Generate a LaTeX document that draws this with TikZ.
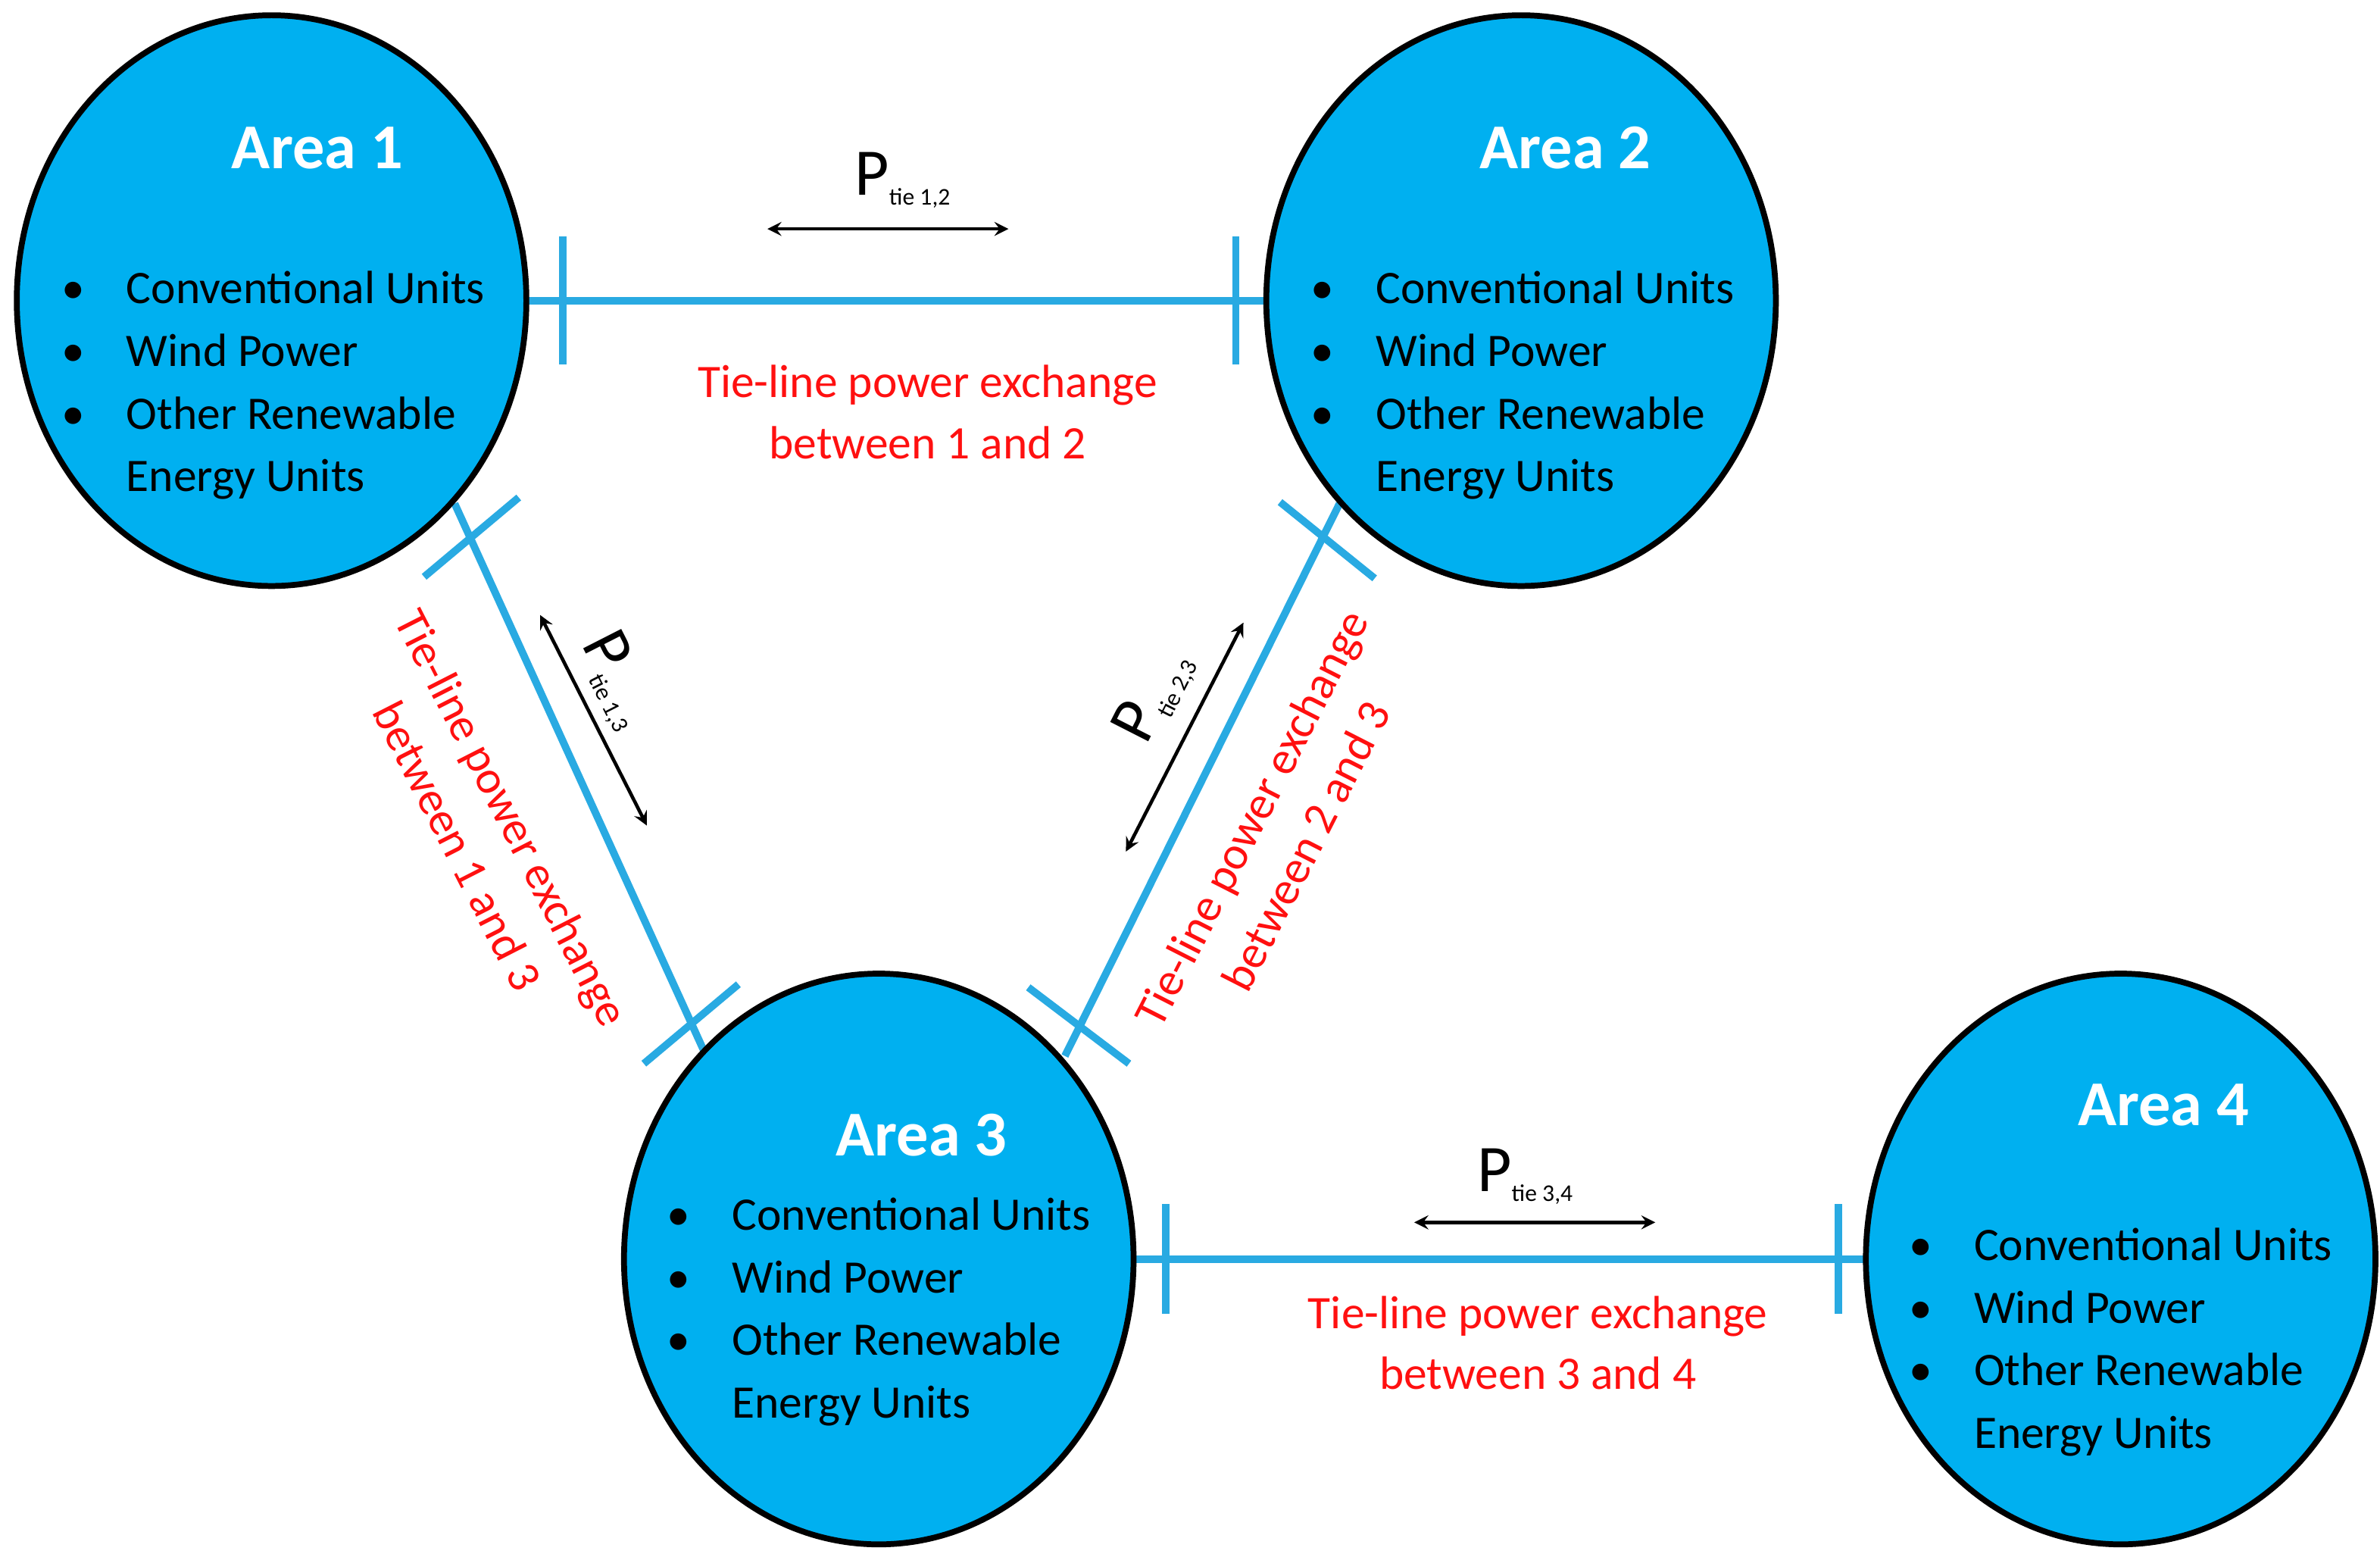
\documentclass[tikz,border=0pt]{standalone}
\usepackage{fontspec}
\setmainfont{Carlito}
\usetikzlibrary{shapes.geometric, arrows, positioning, math, calc}
\definecolor{areaBlue}{HTML}{00B0F0}
\definecolor{lineBlue}{HTML}{29AAE2}
\definecolor{labelRed}{HTML}{FF1010}
\newcommand{\arealist}{%
	\begin{tabular}{@{}l@{\hspace{0.55cm}}l@{}}
	\textbullet & Conventional Units\\
	\textbullet & Wind Power\\
	\textbullet & Other Renewable\\
	            & Energy Units
	\end{tabular}}
\begin{document}
\begin{tikzpicture}[x=0.2014mm, y=-0.2014mm]
	\tikzmath{
		\rx   = 167; %circle half width
		\ry   = 187; %circle half height
		\barL = 42;  %half length of the end bars
	}
	\tikzstyle{Area} = [
		ellipse, draw=black, line width=2.2pt, fill=areaBlue, inner sep=0pt,
		minimum width=2*\rx*0.2014mm, minimum height=2*\ry*0.2014mm
	]
	\tikzstyle{Title} = [text=white, font=\fontsize{24}{28}\selectfont\bfseries]
	\tikzstyle{List}  = [anchor=north west, inner sep=0pt, font=\fontsize{17.5}{23.5}\selectfont]
	\tikzstyle{Tie}   = [draw=lineBlue, line width=2.8pt]
	\tikzstyle{Flow}  = [<->, >=stealth, line width=1.3pt]
	\tikzstyle{RedNote} = [text=labelRed, align=center, font=\fontsize{17.5}{23}\selectfont]
	\tikzstyle{PNote} = [font=\fontsize{25}{28}\selectfont]
	\useasboundingbox (0,0) rectangle (1560,1018);

	%%%%%%%%%%%%%%%%%%%%%%%%%%===---TIE LINES---===%%%%%%%%%%%%%%%%%%%%%%%%%%
	\coordinate (t12a) at (369,197);
	\coordinate (t12b) at (810,197);
	\coordinate (t34a) at (764,825);
	\coordinate (t34b) at (1205,825);
	\coordinate (t13a) at (309,352);
	\coordinate (t13b) at (453,671);
	\coordinate (t23a) at (870,354);
	\coordinate (t23b) at (707,672);
	\draw[Tie] (345,197) -- (830,197);
	\draw[Tie] (743,825) -- (1223,825);
	\draw[Tie] (298,330) -- (462,690);
	\draw[Tie] (878,330) -- (698,692);
	\draw[Tie] ($(t12a)+(0,-\barL)$) -- ($(t12a)+(0,\barL)$);
	\draw[Tie] ($(t12b)+(0,-\barL)$) -- ($(t12b)+(0,\barL)$);
	\draw[Tie] ($(t34a)+(0,-36)$) -- ($(t34a)+(0,36)$);
	\draw[Tie] ($(t34b)+(0,-36)$) -- ($(t34b)+(0,36)$);
	\draw[Tie] ($(t13a)+(-31,26)$) -- ($(t13a)+(31,-26)$);
	\draw[Tie] ($(t13b)+(-31,26)$) -- ($(t13b)+(31,-26)$);
	\draw[Tie] ($(t23a)+(-31,-25)$) -- ($(t23a)+(31,25)$);
	\draw[Tie] ($(t23b)+(-33,-25)$) -- ($(t23b)+(33,25)$);

	%%%%%%%%%%%%%%%%%%%%%%%%%%===---AREAS---===%%%%%%%%%%%%%%%%%%%%%%%%%%
	\node (area1) [Area] at (178,197) {};
	\node (title1) [Title] at (208,97) {Area 1};
	\node (list1) [List] at (40,170) {\arealist};

	\node (area2) [Area] at (997,197) {};
	\node (title2) [Title] at (1026,97) {Area 2};
	\node (list2) [List] at (859,170) {\arealist};

	\node (area3) [Area] at (576,825) {};
	\node (title3) [Title] at (604,744) {Area 3};
	\node (list3) [List] at (437,777) {\arealist};

	\node (area4) [Area] at (1390,825) {};
	\node (title4) [Title] at (1418,724) {Area 4};
	\node (list4) [List] at (1251,797) {\arealist};

	%%%%%%%%%%%%%%%%%%%%%%%%%%===---FLOWS---===%%%%%%%%%%%%%%%%%%%%%%%%%%
	\coordinate (f12a) at (503,150);
	\coordinate (f12b) at (661,150);
	\coordinate (f34a) at (927,801);
	\coordinate (f34b) at (1085,801);
	\coordinate (f13a) at (354,403);
	\coordinate (f13b) at (424,541);
	\coordinate (f23a) at (815,408);
	\coordinate (f23b) at (738,558);
	\draw[Flow] (f12a) -- (f12b);
	\draw[Flow] (f34a) -- (f34b);
	\draw[Flow] (f13a) -- (f13b);
	\draw[Flow] (f23a) -- (f23b);
	\node (p12) [PNote] at (592,118) {P\textsubscript{\small tie 1,2}};
	\node (p34) [PNote] at (1000,771) {P\textsubscript{\small tie 3,4}};
	\node (p13) [PNote, rotate=-63] at (404,446) {P\textsubscript{\small tie 1,3}};
	\node (p23) [PNote, rotate=63] at (757,456) {P\textsubscript{\small tie 2,3}};

	%%%%%%%%%%%%%%%%%%%%%%%%%%===---NOTES---===%%%%%%%%%%%%%%%%%%%%%%%%%%
	\node (n12) [RedNote] at (608,270) {Tie-line power exchange\\between 1 and 2};
	\node (n34) [RedNote] at (1008,880) {Tie-line power exchange\\between 3 and 4};
	\node (n13) [RedNote, rotate=-63] at (318,545) {Tie-line power exchange\\between 1 and 3};
	\node (n23) [RedNote, rotate=63] at (838,545) {Tie-line power exchange\\between 2 and 3};
\end{tikzpicture}
\end{document}
